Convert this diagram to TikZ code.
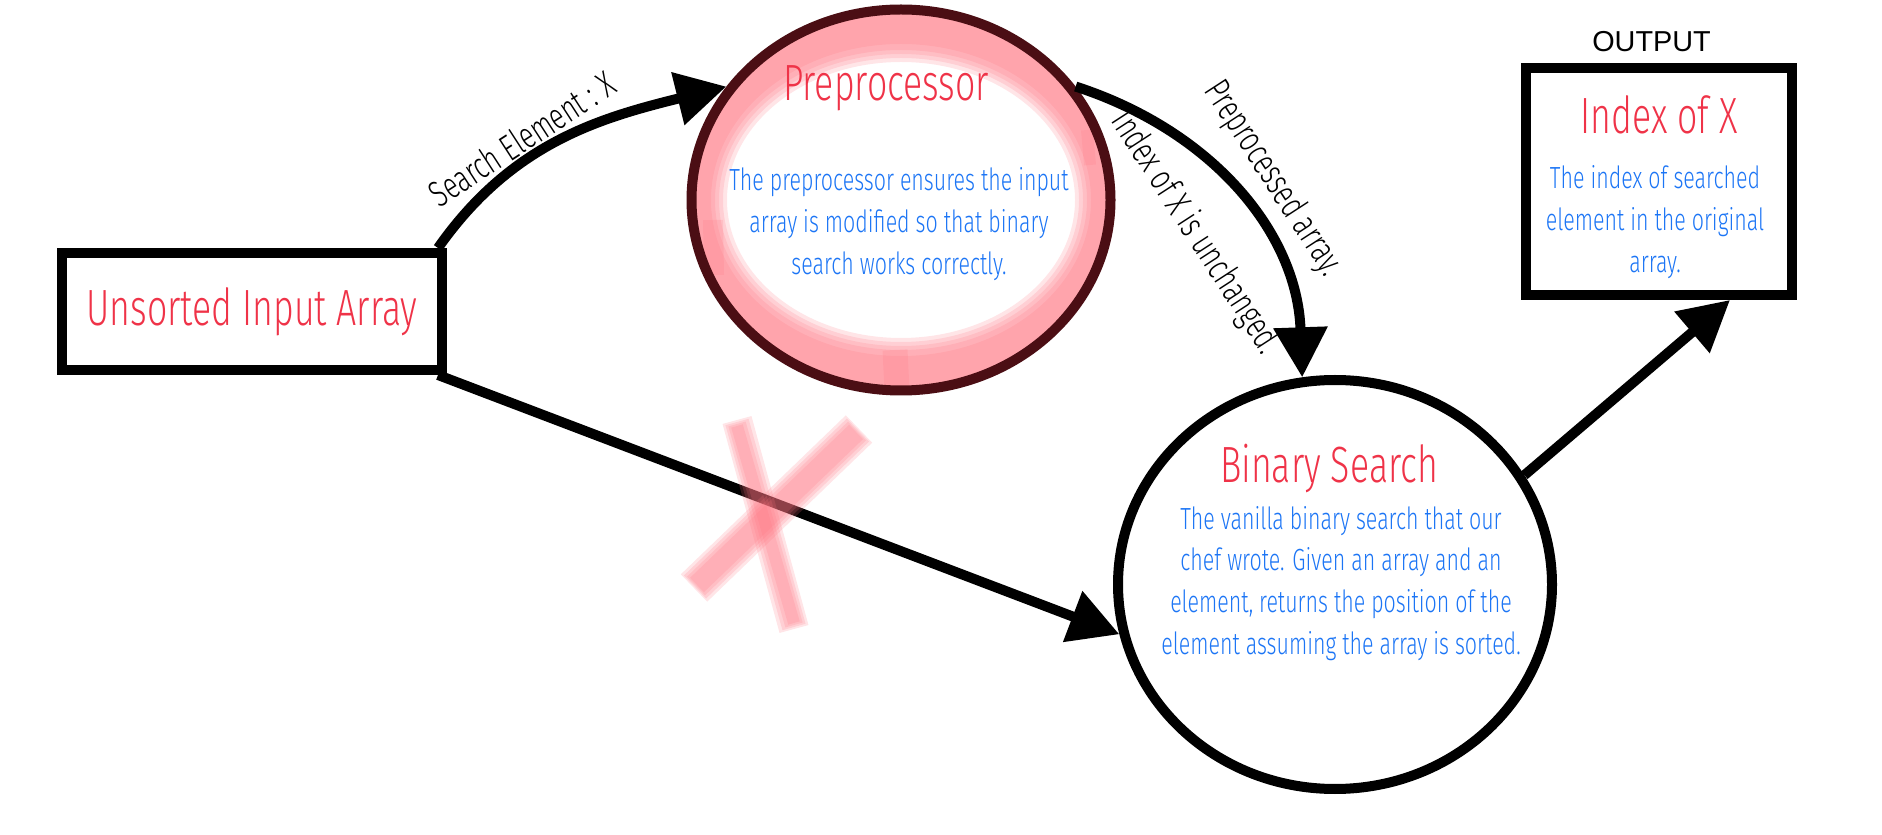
\documentclass[tikz,border=0pt]{standalone}
\usepackage{fontspec}
\usetikzlibrary{shapes.geometric,arrows.meta,positioning}
\newfontfamily\handfont[FakeStretch=0.7]{Fira Sans Light}
\newfontfamily\plainfont{Liberation Sans}
\definecolor{headred}{RGB}{239,51,72}
\definecolor{bodyblue}{RGB}{28,117,245}
\definecolor{ppborder}{RGB}{75,14,20}
\definecolor{ppink}{RGB}{255,115,128}
\begin{document}
\begin{tikzpicture}[
        head/.style={font=\handfont\fontsize{14.5}{17}\selectfont, text=headred, inner sep=0pt},
        body/.style={font=\handfont\fontsize{8.7}{11.9}\selectfont, text=bodyblue, align=center, inner sep=0pt},
        lbl/.style={font=\handfont\fontsize{10.5}{12}\selectfont, inner sep=0pt},
        inbox/.style={draw, line width=1mm, inner sep=0pt},
        proc/.style={draw, ellipse, line width=1mm, inner sep=0pt},
        flow/.style={line width=1mm, -{Triangle[length=5mm,width=5.2mm]}},
        smear/.style={ppink, opacity=0.19}
    ]
                \useasboundingbox (0,0) rectangle (18.82,8.34);

                % pink highlight round the preprocessor
                \coordinate (prec) at (9.01,6.34);
                \fill[smear, even odd rule] (prec) ellipse (2.08 and 1.89) (prec) ellipse (1.74 and 1.38);
                \fill[smear, even odd rule] (prec) ellipse (2.08 and 1.89) (prec) ellipse (1.78 and 1.42);
                \fill[smear, even odd rule] (prec) ellipse (2.08 and 1.89) (prec) ellipse (1.82 and 1.46);
                \fill[smear, even odd rule] (prec) ellipse (2.08 and 1.89) (prec) ellipse (1.86 and 1.50);
                \fill[smear, even odd rule] (prec) ellipse (2.08 and 1.89) (prec) ellipse (1.90 and 1.56);
                \draw[smear, line width=2mm] (7.13,6.14) -- (7.14,5.59);
                \draw[smear, line width=2.5mm] (8.95,4.84) -- (8.97,4.44);
                \draw[smear, line width=1.2mm] (10.87,7.04) -- (10.90,6.69);

                \node[inbox, minimum width=3.8cm, minimum height=1.17cm, head] (input) at (2.52,5.225) {Unsorted Input Array};

                \node[proc, draw=ppborder, minimum width=4.19cm, minimum height=3.81cm] (pre) at (prec) {};
                \node[head] (pretitle) at ([shift={(-0.15,1.12)}]pre.center) {Preprocessor};
                \node[body] (pretext) at ([shift={(-0.02,-0.24)}]pre.center) {The preprocessor ensures the input\\array is modified so that binary\\search works correctly.};

                \node[proc, minimum width=4.34cm, minimum height=4.09cm] (bs) at (13.35,2.495) {};
                \node[head] (bstitle) at ([shift={(-0.06,1.155)}]bs.center) {Binary Search};
                \node[body] (bstext) at ([shift={(0.06,0.01)}]bs.center) {The vanilla binary search that our\\chef wrote. Given an array and an\\element, returns the position of the\\element assuming the array is sorted.};

                \node[inbox, minimum width=2.66cm, minimum height=2.27cm] (out) at (16.59,6.525) {};
                \node[font=\plainfont\fontsize{8.2}{10}\selectfont, inner sep=0pt, above=1.1mm of out, xshift=-0.75mm] (outlbl) {OUTPUT};
                \node[head] (outtitle) at ([yshift=0.67cm]out.center) {Index of X};
                \node[body] (outtext) at ([shift={(-0.04,-0.405)}]out.center) {The index of searched\\element in the original\\array.};

                \draw[flow] ([xshift=-0.9mm]input.north east) to[out=55, in=194] (pre.147);
                \draw[flow] (pre.33) to[out=-18, in=92] (bs.99);
                \draw[flow] ([xshift=-0.9mm]input.south east) -- (bs.193);
                \draw[flow] (bs.30) -- ([xshift=7.1mm]out.south);

                \node[lbl, rotate=33] (searchlbl) at (5.22,6.955) {Search Element : X};
                \node[lbl, rotate=-57] (pplbl) at (12.73,6.55) {Preprocessed array.};
                \node[lbl, rotate=-57] (idxlbl) at (11.95,6.01) {Index of X is unchanged.};

                % crossed out shortcut
                \draw[smear, line width=3mm] (7.37,4.14) -- (7.94,2.05);
                \draw[smear, line width=2.4mm] (7.37,4.12) -- (7.94,2.07);
                \draw[smear, line width=1.8mm] (7.37,4.10) -- (7.94,2.09);
                \draw[smear, line width=1.2mm] (7.37,4.08) -- (7.94,2.11);
                \draw[smear, line width=3.8mm] (8.59,4.05) -- (6.94,2.46);
                \draw[smear, line width=3.2mm] (8.58,4.04) -- (6.95,2.47);
                \draw[smear, line width=2.6mm] (8.57,4.03) -- (6.96,2.48);
                \draw[smear, line width=2mm] (8.56,4.02) -- (6.97,2.49);
            \end{tikzpicture}
\end{document}
